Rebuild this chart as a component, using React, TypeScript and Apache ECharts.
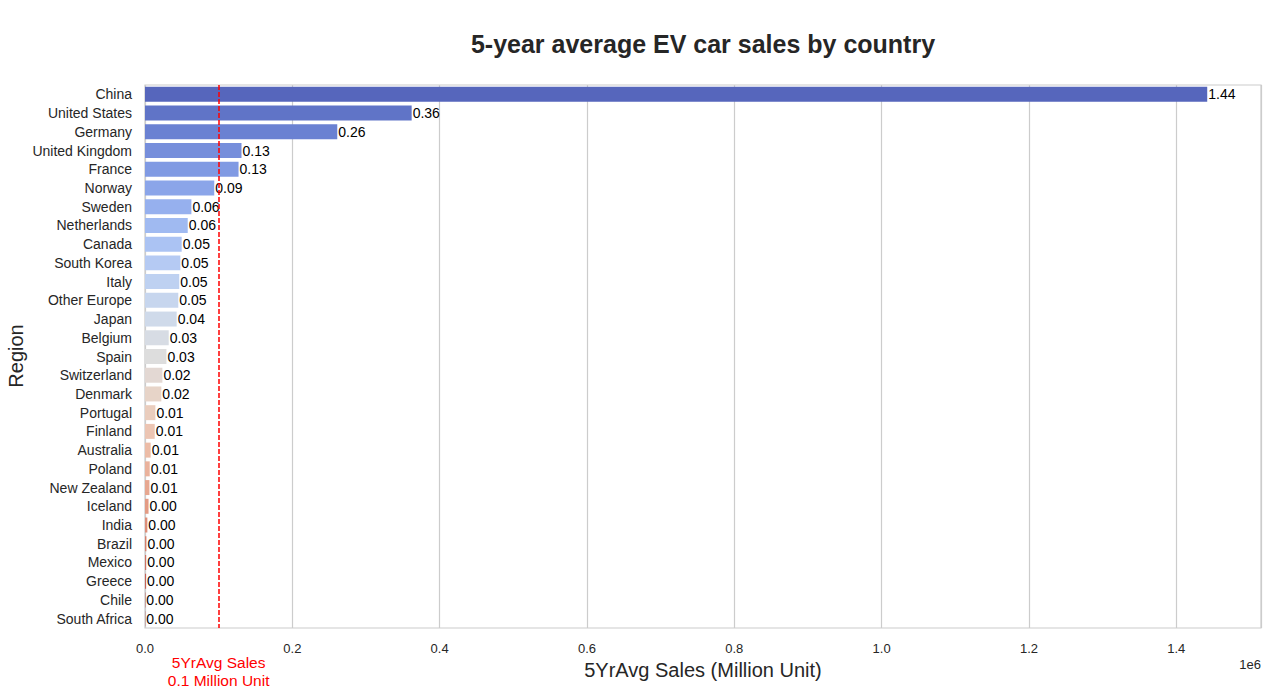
import React, { useEffect, useRef } from "react";
import * as echarts from "echarts";

const countries = [
  "China", "United States", "Germany", "United Kingdom", "France", "Norway", "Sweden",
  "Netherlands", "Canada", "South Korea", "Italy", "Other Europe", "Japan", "Belgium",
  "Spain", "Switzerland", "Denmark", "Portugal", "Finland", "Australia", "Poland",
  "New Zealand", "Iceland", "India", "Brazil", "Mexico", "Greece", "Chile", "South Africa",
];

// 5-year average sales, in million units
const avgSales = [
  1.442, 0.362, 0.261, 0.131, 0.127, 0.094, 0.063,
  0.058, 0.0498, 0.048, 0.0465, 0.0452, 0.043, 0.0322,
  0.0291, 0.0236, 0.0222, 0.0141, 0.0132, 0.0077, 0.0064,
  0.006, 0.0048, 0.0032, 0.0019, 0.0016, 0.0015, 0.0005, 0.0003,
];

const xTicks = [0, 0.2, 0.4, 0.6, 0.8, 1.0, 1.2, 1.4];
const refLine = 0.1;

// coolwarm colormap table (33 points)
const COOLWARM = [
  [59, 76, 192], [68, 90, 204], [77, 104, 215], [87, 117, 225], [98, 130, 234],
  [108, 142, 241], [119, 154, 247], [130, 165, 251], [141, 176, 254], [152, 185, 255],
  [163, 194, 255], [174, 201, 253], [184, 208, 249], [194, 213, 244], [204, 217, 238],
  [213, 219, 230], [221, 221, 221], [229, 216, 209], [236, 211, 197], [241, 204, 184],
  [245, 196, 173], [247, 187, 160], [247, 177, 148], [247, 166, 135], [244, 154, 123],
  [241, 141, 111], [236, 127, 99], [229, 112, 88], [222, 96, 77], [213, 80, 66],
  [203, 62, 56], [192, 40, 47], [180, 4, 38],
];

function cmap(t: number): number[] {
  const p = t * (COOLWARM.length - 1);
  const i = Math.min(Math.floor(p), COOLWARM.length - 2);
  const f = p - i;
  return COOLWARM[i].map((v, k) => v + (COOLWARM[i + 1][k] - v) * f);
}

function desaturate(rgb: number[], prop: number): string {
  const [r, g, b] = rgb.map((v) => v / 255);
  const mx = Math.max(r, g, b), mn = Math.min(r, g, b);
  const l = (mx + mn) / 2;
  let h = 0, s = 0;
  if (mx !== mn) {
    const d = mx - mn;
    s = l > 0.5 ? d / (2 - mx - mn) : d / (mx + mn);
    if (mx === r) h = ((g - b) / d + (g < b ? 6 : 0)) / 6;
    else if (mx === g) h = ((b - r) / d + 2) / 6;
    else h = ((r - g) / d + 4) / 6;
  }
  s *= prop;
  const hue2rgb = (p: number, q: number, t: number) => {
    if (t < 0) t += 1;
    if (t > 1) t -= 1;
    if (t < 1 / 6) return p + (q - p) * 6 * t;
    if (t < 1 / 2) return q;
    if (t < 2 / 3) return p + (q - p) * (2 / 3 - t) * 6;
    return p;
  };
  let R = l, G = l, B = l;
  if (s !== 0) {
    const q = l < 0.5 ? l * (1 + s) : l + s - l * s;
    const p = 2 * l - q;
    R = hue2rgb(p, q, h + 1 / 3);
    G = hue2rgb(p, q, h);
    B = hue2rgb(p, q, h - 1 / 3);
  }
  const hx = (v: number) => Math.round(v * 255).toString(16).padStart(2, "0");
  return "#" + hx(R) + hx(G) + hx(B);
}

const n = countries.length;
const palette = countries.map((_, i) => desaturate(cmap((i + 1) / (n + 1)), 0.75));

const FONT = "Liberation Sans, Arial, sans-serif";
const DARK = "#262626";

export default function App() {
  const ref = useRef<HTMLDivElement>(null);
  useEffect(() => {
    if (!ref.current) return;
    const chart = echarts.init(ref.current, undefined, { renderer: "svg" });
    const gridLeft = 145, gridRight = 7, gridTop = 85, gridBottom = 67;
    chart.setOption({
      animation: false,
      backgroundColor: "#ffffff",
      textStyle: { fontFamily: FONT },
      grid: {
        left: gridLeft, right: gridRight, top: gridTop, bottom: gridBottom,
        show: true, borderColor: "#cccccc", borderWidth: 1.2, backgroundColor: "transparent",
        containLabel: false,
        outerBoundsMode: "none",
      },
      xAxis: {
        type: "value",
        min: 0,
        max: 1.515,
        interval: 0.2,
        name: "5YrAvg Sales (Million Unit)",
        nameLocation: "middle",
        nameGap: 29,
        nameTextStyle: { fontSize: 20, color: DARK, fontFamily: FONT },
        axisLine: { show: false },
        axisTick: { show: false },
        axisLabel: {
          fontSize: 13,
          color: DARK,
          margin: 14,
          fontFamily: FONT,
          showMaxLabel: false,
          formatter: (v: number) =>
            xTicks.some((t) => Math.abs(t - v) < 1e-9) ? v.toFixed(1) : "",
        },
        splitLine: { show: true, lineStyle: { color: "#cccccc", width: 1.2 } },
      },
      yAxis: {
        type: "category",
        data: countries,
        inverse: true,
        axisLine: { show: false },
        axisTick: { show: false },
        axisLabel: { fontSize: 14, color: DARK, margin: 13, fontFamily: FONT },
        splitLine: { show: false },
      },
      series: [
        {
          type: "bar",
          data: avgSales.map((v, i) => ({ value: v, itemStyle: { color: palette[i] } })),
          barCategoryGap: "20%",
          label: {
            show: true,
            position: "right",
            distance: 1,
            color: "#000000",
            fontSize: 14,
            fontFamily: FONT,
            formatter: (p: any) => Number(p.value).toFixed(2),
          },
          markLine: {
            silent: true,
            symbol: "none",
            label: { show: false },
            lineStyle: { color: "#ff0000", type: [5, 2], width: 1.5 },
            data: [{ xAxis: refLine }],
          },
        },
      ],
    });
    const px = chart.convertToPixel({ xAxisIndex: 0 }, refLine) as number;
    chart.setOption({
      graphic: [
        {
          type: "text",
          x: 703,
          y: 44,
          style: {
            text: "5-year average EV car sales by country",
            fontSize: 25,
            fontWeight: "bold",
            fill: DARK,
            fontFamily: FONT,
            align: "center",
            verticalAlign: "middle",
          },
        },
        {
          type: "text",
          x: 16,
          y: 356,
          rotation: Math.PI / 2,
          style: {
            text: "Region",
            fontSize: 20,
            fill: DARK,
            fontFamily: FONT,
            align: "center",
            verticalAlign: "middle",
          },
        },
        {
          type: "text",
          x: px,
          y: 671,
          style: {
            text: "5YrAvg Sales\n0.1 Million Unit",
            fontSize: 15.5,
            lineHeight: 18,
            fill: "#ff0000",
            fontFamily: FONT,
            align: "center",
            verticalAlign: "middle",
          },
        },
        {
          type: "text",
          x: 1261,
          y: 664,
          style: {
            text: "1e6",
            fontSize: 13,
            fill: DARK,
            fontFamily: FONT,
            align: "right",
            verticalAlign: "middle",
          },
        },
      ],
    });
    return () => chart.dispose();
  }, []);
  return (
    <div
      ref={ref}
      style={{ position: "fixed", left: 0, top: 0, width: 1268, height: 695, background: "#fff" }}
    />
  );
}
